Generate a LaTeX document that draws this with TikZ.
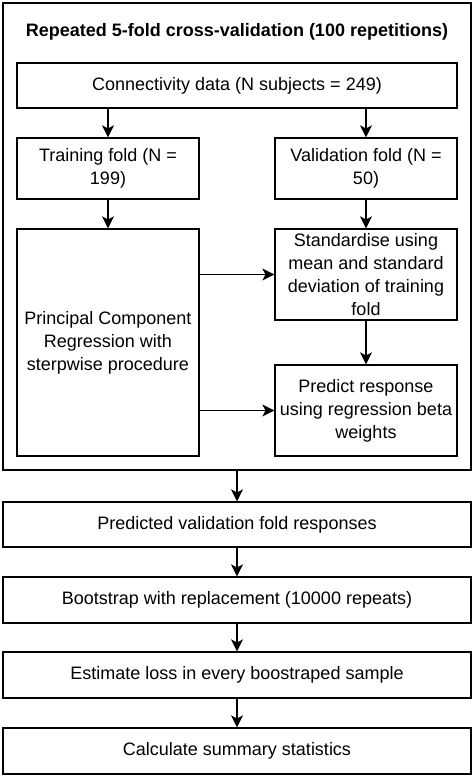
\documentclass[tikz,border=0pt]{standalone}
\usepackage{fontspec}
\setmainfont{Liberation Sans}
\usetikzlibrary{arrows.meta}
\tikzset{
  box/.style={draw, line width=1.2pt, align=center, inner sep=0pt,
    font=\fontsize{18}{23}\selectfont},
  arr/.style={line width=1.2pt, -{Stealth[length=12pt,width=12pt,inset=3pt]}}
}
\begin{document}
\begin{tikzpicture}[x=1pt,y=-1pt]
      \useasboundingbox (0,0) rectangle (474,776);
      \node[box, minimum width=468pt, minimum height=467pt] (cv) at (237, 236.5) {};
      \node[font=\fontsize{18}{23}\selectfont\bfseries] (title) at (237, 32) {Repeated 5-fold cross-validation (100 repetitions)};
      \node[box, minimum width=440pt, minimum height=45pt] (data) at (237, 85.5) {Connectivity data (N subjects = 249)};
      \node[box, minimum width=182pt, minimum height=61pt] (train) at (108, 168.5) {Training fold (N =\\199)};
      \node[box, minimum width=182pt, minimum height=61pt] (valid) at (366, 168.5) {Validation fold (N =\\50)};
      \node[box, minimum width=182pt, minimum height=227pt] (pcr) at (108, 342.5) {Principal Component\\Regression with\\sterpwise procedure};
      \node[box, minimum width=182pt, minimum height=91pt] (stand) at (366, 274.5) {Standardise using\\mean and standard\\deviation of training\\fold};
      \node[box, minimum width=182pt, minimum height=91pt] (predict) at (366, 410.5) {Predict response\\using regression beta\\weights};
      \node[box, minimum width=468pt, minimum height=45pt] (resp) at (237, 524.5) {Predicted validation fold responses};
      \node[box, minimum width=468pt, minimum height=46pt] (boot) at (237, 600) {Bootstrap with replacement (10000 repeats)};
      \node[box, minimum width=468pt, minimum height=46pt] (loss) at (237, 675) {Estimate loss in every boostraped sample};
      \node[box, minimum width=468pt, minimum height=46pt] (stats) at (237, 751) {Calculate summary statistics};
      \draw[arr] (data.south -| train) to (train);
      \draw[arr] (data.south -| valid) to (valid);
      \draw[arr] (train) to (pcr);
      \draw[arr] (valid) to (stand);
      \draw[arr] (stand) to (predict);
      \draw[arr] (pcr.east |- stand) to (stand.west);
      \draw[arr] (pcr.east |- predict) to (predict.west);
      \draw[arr] (cv) to (resp);
      \draw[arr] (resp) to (boot);
      \draw[arr] (boot) to (loss);
      \draw[arr] (loss) to (stats);
\end{tikzpicture}
\end{document}
